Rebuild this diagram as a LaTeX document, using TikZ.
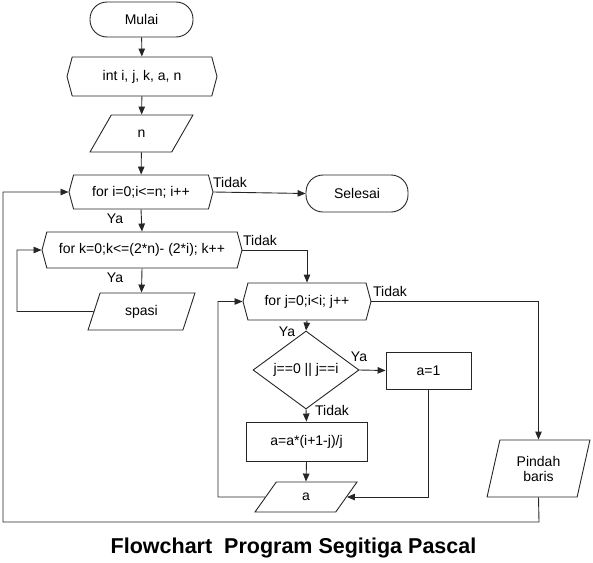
\documentclass[tikz,border=0pt]{standalone}
\usepackage{fontspec}
\setmainfont{Liberation Sans}
\usetikzlibrary{shapes.geometric,shapes.symbols,arrows.meta}
\begin{document}
\begin{tikzpicture}[x=1pt,y=-1pt,
 every node/.style={font=\fontsize{14}{16}\selectfont, inner sep=0pt},
 base/.style={draw=black!85, line width=0.9pt},
 term/.style={base, rectangle, rounded corners=17pt},
 prep/.style={base, signal, signal to=west and east, signal pointer angle=150},
 para/.style={base, trapezium, trapezium left angle=70, trapezium right angle=110, trapezium stretches=true},
 proc/.style={base, rectangle},
 dec/.style={base, diamond},
 ln/.style={draw=black!85, line width=0.9pt},
 arr/.style={ln, -{Triangle[length=8pt,width=6.5pt]}},
 lbl/.style={font=\fontsize{14}{16}\selectfont}
]
\useasboundingbox (0,0) rectangle (593,562);

\node[term, minimum width=103pt, minimum height=35pt] (mulai) at (141.5,19.5) {Mulai};
\node[prep, minimum width=150pt, minimum height=39pt] (int) at (142,76.5) {int i, j, k, a, n};
\node[para, minimum width=103pt, minimum height=37pt] (n) at (141.5,133.5) {n};
\node[prep, minimum width=144pt, minimum height=34pt] (fori) at (141,192) {for i=0;i<=n; i++};
\node[term, minimum width=102pt, minimum height=37pt] (selesai) at (357,193.5) {Selesai};
\node[prep, minimum width=200pt, minimum height=36pt] (fork) at (142,250) {for k=0;k<=(2*n)- (2*i); k++};
\node[para, minimum width=107pt, minimum height=37pt] (spasi) at (141.5,311.5) {spasi};
\node[prep, minimum width=128pt, minimum height=37pt] (forj) at (307,301.5) {for j=0;i<i; j++};
\node[dec, minimum width=106pt, minimum height=56pt] (cek) at (306,370) {j==0 || j==i};
\node[proc, minimum width=85pt, minimum height=37pt] (a1) at (428.5,370.5) {a=1};
\node[proc, minimum width=121pt, minimum height=39pt] (hit) at (306.5,441.5) {a=a*(i+1-j)/j};
\node[para, minimum width=102pt, minimum height=30pt] (a) at (306,497) {a};
\node[para, trapezium left angle=74, trapezium right angle=106, minimum width=103pt, minimum height=57pt, align=center, font=\fontsize{14}{15}\selectfont] (pindah) at (538.5,468.5) {Pindah\\baris};

\node[font=\bfseries\fontsize{21.5}{24}\selectfont] (title) at (293.5,548) {Flowchart\ \ Program Segitiga Pascal};

\coordinate (lk) at (17,311.5);
\coordinate (lj) at (218,497);
\coordinate (pb) at (539,522);
\coordinate (lo) at (3,522);

\draw[arr] (mulai) -- (int);
\draw[arr] (int) -- (n);
\draw[arr] (n) -- (fori);
\draw[arr] (fori.east) -- (selesai.west);
\draw[arr] (fori.south) -- (fork.north);
\draw[arr] (fork.east) -| (forj.north);
\draw[arr] (fork.south) -- (spasi.north);
\draw[arr] (spasi.west) -- (lk) |- (fork.west);
\draw[arr] (forj.east) -| (pindah.north);
\draw[arr] (forj.south) -- (cek.north);
\draw[arr] (cek.east) -- (a1.west);
\draw[arr] (cek.south) -- (hit.north);
\draw[arr] (hit.south) -- (a.north);
\draw[arr] (a1.south) |- (a.east);
\draw[arr] (a.west) -- (lj) |- (forj.west);
\draw[arr] (pindah.south) -- (pb) -- (lo) |- (fori.west);

\node[lbl] (l1) at (230,182) {Tidak};
\node[lbl] (l2) at (115,219) {Ya};
\node[lbl] (l3) at (260,240) {Tidak};
\node[lbl] (l4) at (115,278) {Ya};
\node[lbl] (l5) at (390,291) {Tidak};
\node[lbl] (l6) at (287,332) {Ya};
\node[lbl] (l7) at (359,357) {Ya};
\node[lbl] (l8) at (332,410) {Tidak};
\end{tikzpicture}
\end{document}
